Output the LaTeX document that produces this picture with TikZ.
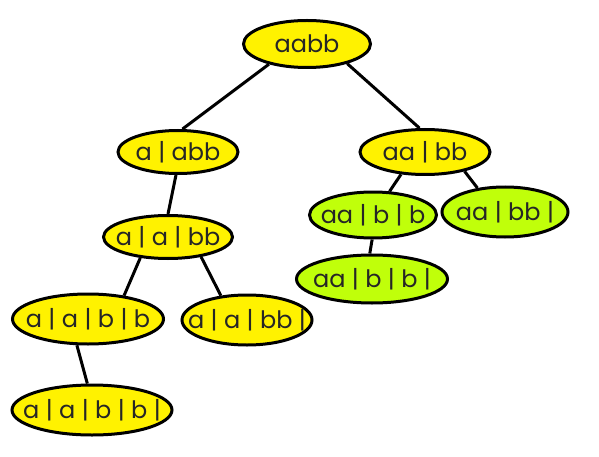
\documentclass[tikz,border=0pt]{standalone}
\usepackage{fontspec}
\setmainfont{Poppins}
\usetikzlibrary{shapes.geometric}
\definecolor{nodeyellow}{RGB}{255,242,0}
\definecolor{nodegreen}{RGB}{192,255,10}
\tikzset{
  txt/.style={inner sep=0pt, font=\fontsize{24}{27}\selectfont, text=black!85},
  st/.style={ellipse, draw=black, line width=3pt, inner sep=0pt},
  ys/.style={st, fill=nodeyellow},
  gs/.style={st, fill=nodegreen},
  edge/.style={draw=black, line width=3pt}
}
\begin{document}
\begin{tikzpicture}[x=1pt, y=-1pt]
\useasboundingbox (0,0) rectangle (599,457);
\node[ys, minimum width=127pt, minimum height=47pt, label={[txt]center:aabb}] (r) at (307,44) {};
\node[ys, minimum width=120pt, minimum height=43pt, label={[txt]center:a | abb}] (l1) at (178,152) {};
\node[ys, minimum width=129pt, minimum height=43pt, label={[txt]center:a | a | bb}] (l2) at (168,237) {};
\node[ys, minimum width=151pt, minimum height=50pt, label={[txt]center:a | a | b | b}] (l3) at (88,319) {};
\node[ys, minimum width=130pt, minimum height=50pt, label={[txt]center:a | a | bb |}] (l4) at (247,320) {};
\node[ys, minimum width=160pt, minimum height=50pt, label={[txt]center:a | a | b | b |}] (l5) at (92,410) {};
\node[ys, minimum width=130pt, minimum height=45pt, label={[txt]center:aa | bb}] (r1) at (425,152) {};
\node[gs, minimum width=127pt, minimum height=46pt, label={[txt]center:aa | b | b}] (r2) at (373,215) {};
\node[gs, minimum width=126pt, minimum height=50pt, label={[txt]center:aa | bb |}] (r3) at (505,212) {};
\node[gs, minimum width=151pt, minimum height=48pt, label={[txt]center:aa | b | b |}] (r4) at (372,279) {};
\draw[edge] (r.208) -- (l1.79);
\draw[edge] (r.334) -- (r1.103);
\draw[edge] (l1.265) -- (l2.90);
\draw[edge] (l2.217) -- (l3.33);
\draw[edge] (l2.329) -- (l4.137);
\draw[edge] (l3.247) -- (l5.100);
\draw[edge] (r1.223) -- (r2.55);
\draw[edge] (r1.334) -- (r3.139);
\draw[edge] (r2.268) -- (r4.95);
\end{tikzpicture}
\end{document}
